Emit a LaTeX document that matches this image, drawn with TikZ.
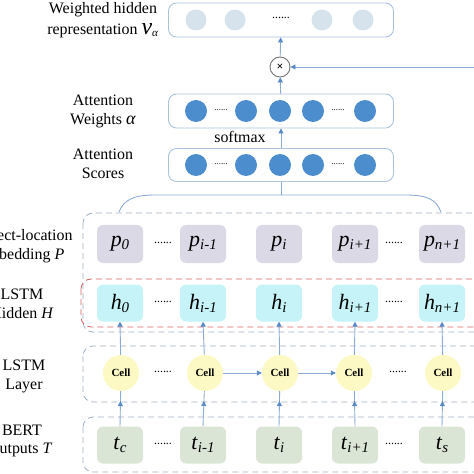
\documentclass[tikz,border=0pt]{standalone}
\usepackage{fontspec}
\setmainfont{Liberation Serif}
\usetikzlibrary{arrows.meta,decorations.markings}

% italic symbol with italic subscript
\newcommand{\sym}[2]{{\fontsize{22}{22}\selectfont\textit{#1}}{\fontsize{15}{15}\selectfont\raisebox{-3bp}{\textit{#2}}}}

\begin{document}
\begin{tikzpicture}[x=1bp,y=-1bp,
    lbox/.style={draw=boxline, rounded corners=8bp, line width=0.9bp, minimum width=225bp, minimum height=34bp},
    wdot/.style={circle, fill=wcol, minimum size=21bp, inner sep=0},
    adot/.style={circle, fill=acol, minimum size=22bp, inner sep=0},
    tok/.style={rounded corners=6bp, minimum width=46bp, minimum height=38bp, inner sep=0},
    pbox/.style={tok, fill=pcol},
    hbox/.style={tok, fill=hcol},
    tbox/.style={tok, fill=tcol},
    cell/.style={circle, fill=ccol, minimum size=36bp, inner sep=0, font=\fontsize{11}{11}\selectfont\bfseries},
    wire/.style={draw=linec, line width=0.9bp},
    conn/.style={wire, -{Triangle[length=5bp,width=5bp,color=tipc]}},
    midconn/.style={wire, postaction=decorate, decoration={markings, mark=at position 0.72 with {\arrow{Triangle[length=5bp,width=5bp,color=tipc]}}}},
    dbox/.style={draw=dashc, dash pattern=on 6bp off 4bp, rounded corners=10bp, line width=0.8bp},
    rbox/.style={dbox, draw=redc},
    lab/.style={font=\fontsize{16}{19}\selectfont, align=center},
    dots/.style={font=\fontsize{12}{12}\selectfont, inner sep=0},
    sdots/.style={font=\fontsize{9}{9}\selectfont, inner sep=0}]
    % colours
    \definecolor{boxline}{RGB}{170, 196, 222}
    \definecolor{wcol}{RGB}{214, 227, 236}
    \definecolor{acol}{RGB}{76, 141, 206}
    \definecolor{pcol}{RGB}{219, 217, 229}
    \definecolor{hcol}{RGB}{197, 243, 247}
    \definecolor{tcol}{RGB}{219, 229, 214}
    \definecolor{ccol}{RGB}{253, 249, 196}
    \definecolor{linec}{RGB}{140, 172, 212}
    \definecolor{tipc}{RGB}{88, 138, 200}
    \definecolor{dashc}{RGB}{160, 176, 194}
    \definecolor{redc}{RGB}{214, 96, 96}

    \useasboundingbox (0,0) rectangle (474,474);

    % dashed frames
    \draw[dbox] (83,213) rectangle (500,332);
    \draw[rbox] (81,279) rectangle (500,327);
    \draw[dbox] (83,346) rectangle (500,402);
    \draw[dbox] (83,417) rectangle (500,472);

    % weighted hidden representation
    \node[lab] (wlab) at (103,20) {Weighted hidden\\[2bp]representation {\fontsize{24}{24}\selectfont\textit{v}}\textsubscript{\textit{α}}};
    \node[lbox] (wbox) at (281,20) {};
    \node[wdot] (w1) at (196,20) {};
    \node[wdot] (w2) at (235,20) {};
    \node[dots] (wd) at (281,18) {......};
    \node[wdot] (w3) at (322,20) {};
    \node[wdot] (w4) at (363,20) {};

    % multiplication
    \node[circle, draw=black!55, line width=0.9bp, fill=white, minimum size=20bp, inner sep=0, font=\fontsize{12}{12}\selectfont\bfseries] (mul) at (280,67) {×};
    \coordinate (ctx) at (480,67);

    % attention weights
    \node[lab] (alab) at (103,111) {Attention\\Weights {\fontsize{18}{18}\selectfont\textit{α}}};
    \node[lbox] (abox) at (281,111) {};
    \node[adot] (a1) at (196,111) {};
    \node[sdots] (ad1) at (221,110) {......};
    \node[adot] (a2) at (246,111) {};
    \node[adot] (a3) at (280,111) {};
    \node[adot] (a4) at (313,111) {};
    \node[sdots] (ad2) at (338,110) {......};
    \node[adot] (a5) at (365,111) {};

    \node[lab] (sm) at (240,137) {softmax};

    % attention scores
    \node[lab] (slab) at (103,164) {Attention\\Scores};
    \node[lbox, minimum height=33bp] (sbox) at (281,165) {};
    \node[adot] (s1) at (196,165) {};
    \node[sdots] (sd1) at (221,164) {......};
    \node[adot] (s2) at (246,165) {};
    \node[adot] (s3) at (280,165) {};
    \node[adot] (s4) at (313,165) {};
    \node[sdots] (sd2) at (338,164) {......};
    \node[adot] (s5) at (365,165) {};

    % bracket from the embedding rows
    \coordinate (bm) at (281,195);
    \coordinate (bl) at (119,212);
    \coordinate (br) at (441,212);
    \draw[wire] (sbox.south) -- (bm);
    \draw[wire] (bl) .. controls (124,199) and (135,195) .. (155,195) -- (405,195) .. controls (427,195) and (436,199) .. (br);

    % aspect-location embedding
    \node[lab] (plab) at (22,246) {Aspect-location\\embedding \textit{P}};
    \node[pbox] (p0) at (120,244) {\sym{p}{0}};
    \node[dots] (pd1) at (163,243) {......};
    \node[pbox] (p1) at (203,244) {\sym{p}{i-1}};
    \node[pbox] (p2) at (279,244) {\sym{p}{i}};
    \node[pbox] (p3) at (355,244) {\sym{p}{i+1}};
    \node[dots] (pd2) at (394,243) {......};
    \node[pbox] (p4) at (442,244) {\sym{p}{n+1}};

    % LSTM hidden
    \node[lab] (hlab) at (22,304) {LSTM\\Hidden \textit{H}};
    \node[hbox, minimum height=37bp] (h0) at (120,303) {\sym{h}{0}};
    \node[dots] (hd1) at (163,302) {......};
    \node[hbox, minimum height=37bp] (h1) at (203,303) {\sym{h}{i-1}};
    \node[hbox, minimum height=37bp] (h2) at (279,303) {\sym{h}{i}};
    \node[hbox, minimum height=37bp] (h3) at (355,303) {\sym{h}{i+1}};
    \node[dots] (hd2) at (394,302) {......};
    \node[hbox, minimum height=37bp] (h4) at (442,303) {\sym{h}{n+1}};

    % LSTM layer
    \node[lab] (clab) at (24,376) {LSTM\\Layer};
    \node[cell] (c0) at (121,373) {Cell};
    \node[dots] (cd1) at (163,372) {......};
    \node[cell] (c1) at (205,373) {Cell};
    \node[cell] (c2) at (280,373) {Cell};
    \node[cell] (c3) at (354,373) {Cell};
    \node[dots] (cd2) at (398,372) {......};
    \node[cell] (c4) at (443,373) {Cell};

    % BERT outputs
    \node[lab] (tlab) at (22,441) {BERT\\outputs \textit{T}};
    \node[tbox, minimum height=37bp] (t0) at (120,445) {\sym{t}{c}};
    \node[dots] (td1) at (163,444) {......};
    \node[tbox, minimum height=37bp] (t1) at (203,445) {\sym{t}{i-1}};
    \node[tbox, minimum height=37bp] (t2) at (279,445) {\sym{t}{i}};
    \node[tbox, minimum height=37bp] (t3) at (355,445) {\sym{t}{i+1}};
    \node[dots] (td2) at (394,444) {......};
    \node[tbox, minimum height=37bp] (t4) at (442,445) {\sym{t}{s}};

    % connectors
    \draw[conn] (sbox) -- (abox);
    \draw[conn] (abox) -- (mul);
    \draw[conn] (mul) -- (wbox);
    \draw[conn] (ctx) -- (mul);
    \draw[midconn] (t0.north) -- (c0);
    \draw[midconn] (t1.north) -- (c1);
    \draw[midconn] (t2.north) -- (c2);
    \draw[midconn] (t3.north) -- (c3);
    \draw[midconn] (t4.north) -- (c4);
    \draw[conn] (c0) -- (h0.south);
    \draw[conn] (c1) -- (h1.south);
    \draw[conn] (c2) -- (h2.south);
    \draw[conn] (c3) -- (h3.south);
    \draw[conn] (c4) -- (h4.south);
    \draw[conn] (c1) -- (c2);
    \draw[conn] (c2) -- (c3);
\end{tikzpicture}
\end{document}
